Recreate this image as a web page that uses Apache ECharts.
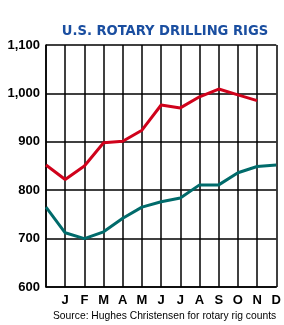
<!DOCTYPE html>
<html><head><meta charset="utf-8">
<script src="https://cdn.jsdelivr.net/npm/echarts@6/dist/echarts.min.js"></script>
<style>html,body{margin:0;padding:0;background:#fff}#c{width:284px;height:325px}</style>
</head><body><div id="c"></div>
<script>
var months = ["", "J", "F", "M", "A", "M", "J", "J", "A", "S", "O", "N", "D"];
var rigsCurrent = [852, 822, 850, 898, 901, 924, 976, 970, 993, 1009, 997, 985, null];
var rigsPrior = [765, 712, 700, 714, 742, 765, 776, 784, 811, 811, 836, 849, 852];
var yTicks = [600, 700, 800, 900, 1000, 1100];

var chart = echarts.init(document.getElementById('c'));
chart.setOption({
  animation: false,
  backgroundColor: '#fff',
  title: {
    text: 'U.S. ROTARY DRILLING RIGS',
    left: 160, top: 19, textAlign: 'center',
    textStyle: {fontFamily: '"DejaVu Sans Condensed", "Liberation Sans"', fontWeight: 'bold', fontSize: 14.6, color: '#1a4ea0'}
  },
  graphic: [{
    type: 'text', left: 53, top: 311,
    style: {text: 'Source: Hughes Christensen for rotary rig counts', fontFamily: 'Liberation Sans', fontSize: 10.3, fill: '#000'}
  }],
  grid: {left: 46, right: 6, top: 45, bottom: 38},
  xAxis: {
    type: 'category', data: months, boundaryGap: false,
    axisLine: {lineStyle: {color: '#000', width: 1.5}},
    axisTick: {show: false},
    axisLabel: {fontFamily: 'Liberation Sans', fontWeight: 'bold', fontSize: 13, color: '#000', margin: 7, interval: 0},
    splitLine: {show: true, lineStyle: {color: '#000', width: 1.5}}
  },
  yAxis: {
    type: 'value', min: yTicks[0], max: yTicks[yTicks.length - 1], interval: 100,
    axisLine: {show: true, lineStyle: {color: '#000', width: 1.5}},
    axisTick: {show: false},
    axisLabel: {fontFamily: 'Liberation Sans', fontWeight: 'bold', fontSize: 13, color: '#000', margin: 6,
      formatter: function (v) { return v.toLocaleString('en-US'); }},
    splitLine: {show: true, lineStyle: {color: '#000', width: 1.5}}
  },
  series: [
    {type: 'line', data: rigsCurrent, symbol: 'none', lineStyle: {color: '#d0021b', width: 3}, z: 3},
    {type: 'line', data: rigsPrior, symbol: 'none', lineStyle: {color: '#006b6b', width: 3}, z: 3}
  ]
});
</script></body></html>
